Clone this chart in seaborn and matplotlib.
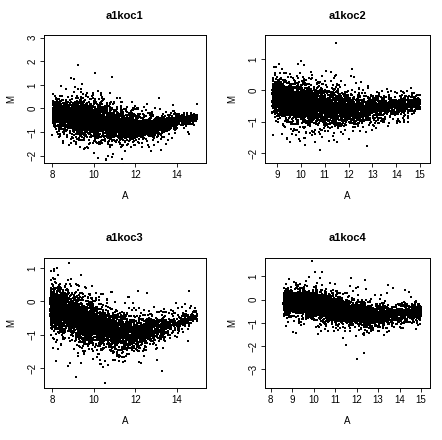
import matplotlib
matplotlib.use("Agg")
import matplotlib.pyplot as plt
import numpy as np
import pandas as pd
import seaborn as sns

# Shapes of each MA cloud: A knots, centre of M, spread of M, share of points
titles = ["a1koc1", "a1koc2", "a1koc3", "a1koc4"]
a_knots = [
    [8.0, 9.0, 10.0, 11.0, 12.0, 13.0, 14.0, 15.0],
    [8.8, 9.5, 10.5, 11.5, 12.5, 13.5, 14.5, 15.0],
    [7.9, 8.5, 9.5, 10.5, 11.5, 12.5, 13.5, 15.0],
    [8.6, 9.5, 10.5, 11.5, 12.5, 13.5, 14.5, 15.0],
]
m_centre = [
    [-0.2, -0.35, -0.5, -0.7, -0.8, -0.8, -0.55, -0.4],
    [-0.2, -0.35, -0.5, -0.6, -0.6, -0.55, -0.45, -0.4],
    [-0.2, -0.3, -0.55, -0.8, -0.95, -0.95, -0.75, -0.45],
    [-0.1, -0.15, -0.3, -0.5, -0.65, -0.7, -0.55, -0.5],
]
m_spread = [
    [0.22, 0.3, 0.33, 0.3, 0.24, 0.2, 0.12, 0.08],
    [0.22, 0.26, 0.26, 0.24, 0.2, 0.16, 0.12, 0.08],
    [0.22, 0.26, 0.27, 0.27, 0.24, 0.2, 0.16, 0.12],
    [0.2, 0.22, 0.26, 0.24, 0.24, 0.2, 0.16, 0.12],
]
a_share = [
    [0.12, 0.22, 0.2, 0.16, 0.12, 0.09, 0.06, 0.03],
    [0.16, 0.24, 0.2, 0.14, 0.1, 0.08, 0.05, 0.03],
    [0.14, 0.24, 0.2, 0.15, 0.11, 0.08, 0.05, 0.03],
    [0.16, 0.24, 0.2, 0.14, 0.1, 0.08, 0.05, 0.03],
]
x_ticks = [[8, 10, 12, 14], [9, 10, 11, 12, 13, 14, 15], [8, 10, 12, 14], [8, 9, 10, 11, 12, 13, 14, 15]]
y_ticks = [[-2, -1, 0, 1, 2, 3], [-2, -1, 0, 1], [-2, -1, 0, 1], [-3, -2, -1, 0, 1]]
x_lims = [(7.6, 15.4), (8.5, 15.4), (7.6, 15.4), (7.75, 15.4)]
y_lims = [(-2.3, 3.1), (-2.3, 1.75), (-2.6, 1.3), (-3.8, 1.8)]
n_points = 5000

sns.set_style("white")
plt.rcParams["font.family"] = ["Liberation Sans", "DejaVu Sans"]
plt.rcParams["text.color"] = "black"
plt.rcParams["axes.labelcolor"] = "black"
plt.rcParams["xtick.color"] = "black"
plt.rcParams["ytick.color"] = "black"

rng = np.random.default_rng(7)


def make_cloud(i):
    knots = np.array(a_knots[i])
    share = np.array(a_share[i])
    w = share[:-1] + share[1:]
    seg = rng.choice(len(knots) - 1, size=n_points, p=w / w.sum())
    a = knots[seg] + rng.random(n_points) * (knots[seg + 1] - knots[seg])
    mc = np.interp(a, knots, m_centre[i])
    sd = np.interp(a, knots, m_spread[i])
    m = mc + sd * rng.standard_t(6, n_points)
    return pd.DataFrame({"A": a, "M": m})


fig = plt.figure(figsize=(4.42, 4.40), dpi=100)
boxes = [
    [0.10, 0.63, 0.365, 0.29],
    [0.60, 0.63, 0.372, 0.29],
    [0.10, 0.118, 0.365, 0.296],
    [0.60, 0.118, 0.372, 0.296],
]

for i, title in enumerate(titles):
    ax = fig.add_axes(boxes[i])
    df = make_cloud(i)
    sns.scatterplot(data=df, x="A", y="M", ax=ax, s=0.6, marker="s",
                    color="black", linewidth=0, legend=False)
    ax.set_xlim(*x_lims[i])
    ax.set_ylim(*y_lims[i])
    ax.set_xticks(x_ticks[i])
    ax.set_yticks(y_ticks[i])
    ax.tick_params(axis="both", labelsize=7, length=3, width=0.6, direction="out",
                   bottom=True, left=True, pad=2)
    for lab in ax.get_yticklabels():
        lab.set_rotation(90)
        lab.set_va("center")
    for sp in ax.spines.values():
        sp.set_color("black")
        sp.set_linewidth(0.7)
    ax.set_title(title, fontsize=8, fontweight="bold", pad=12)
    ax.set_xlabel("A", fontsize=7, labelpad=8)
    ax.set_ylabel("M", fontsize=7, labelpad=8)

fig.savefig("out.png", dpi=100)
